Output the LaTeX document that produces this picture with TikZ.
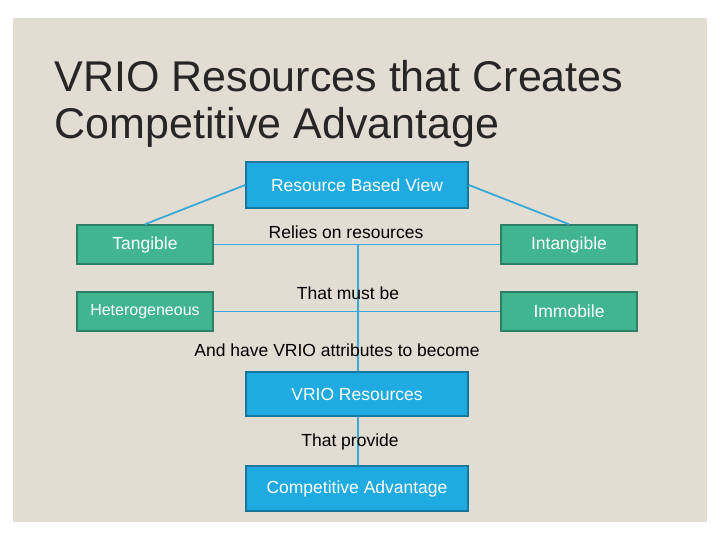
\documentclass[tikz,border=0pt]{standalone}
\usepackage{fontspec}
\setmainfont{Liberation Sans}
\begin{document}
\begin{tikzpicture}[x=1pt,y=-1pt,
  bx/.style={draw=#1!70!black,line width=1.5pt,fill=#1,text=white,inner sep=0pt,font=\fontsize{17.5}{20}\selectfont},
  ln/.style={draw=lineblue,line width=1.8pt},
  lab/.style={font=\fontsize{17.5}{20}\selectfont,text=black}]
\definecolor{bg}{HTML}{E2DDD3}
\definecolor{grn}{HTML}{40B590}
\definecolor{blu}{HTML}{1FAAE1}
\definecolor{lineblue}{HTML}{3AA8D8}
\useasboundingbox (0,0) rectangle (720,540);
\fill[white] (0,0) rectangle (720,540);
\fill[bg] (13,18) rectangle (707,522);
\node[anchor=west,align=left,font=\fontsize{43}{47}\selectfont,text=black!85] (title) at (51,104) {VRIO Resources that Creates\\Competitive Advantage};
\node[bx=blu,minimum width=222pt,minimum height=46pt] (rbv) at (357,185) {Resource Based View};
\node[bx=grn,minimum width=136pt,minimum height=39pt] (tan) at (145,244.5) {Tangible};
\node[bx=grn,minimum width=136pt,minimum height=39pt] (int) at (569,244.5) {Intangible};
\node[bx=grn,minimum width=136pt,minimum height=39pt,font=\fontsize{16}{18}\selectfont] (het) at (145,311.5) {Heterogeneous};
\node[bx=grn,minimum width=136pt,minimum height=39pt] (imm) at (569,311.5) {Immobile};
\node[bx=blu,minimum width=222pt,minimum height=44pt] (vrio) at (357,394) {VRIO Resources};
\node[bx=blu,minimum width=222pt,minimum height=45pt] (ca) at (357,488.5) {Competitive Advantage};
\draw[ln] (rbv.west) -- (tan.north);
\draw[ln] (rbv.east) -- (int.north);
\draw[ln] (tan.east) -- (int.west);
\draw[ln] (het.east) -- (imm.west);
\coordinate (j) at (358,244.5);
\draw[ln] (j) -- (vrio.north -| j);
\draw[ln] (vrio.south -| j) -- (ca.north -| j);
\node[lab] (l1) at (346,232) {Relies on resources};
\node[lab] (l2) at (348,293) {That must be};
\node[lab] (l3) at (337,350) {And have VRIO attributes to become};
\node[lab] (l4) at (350,442) {That provide};
\end{tikzpicture}
\end{document}
